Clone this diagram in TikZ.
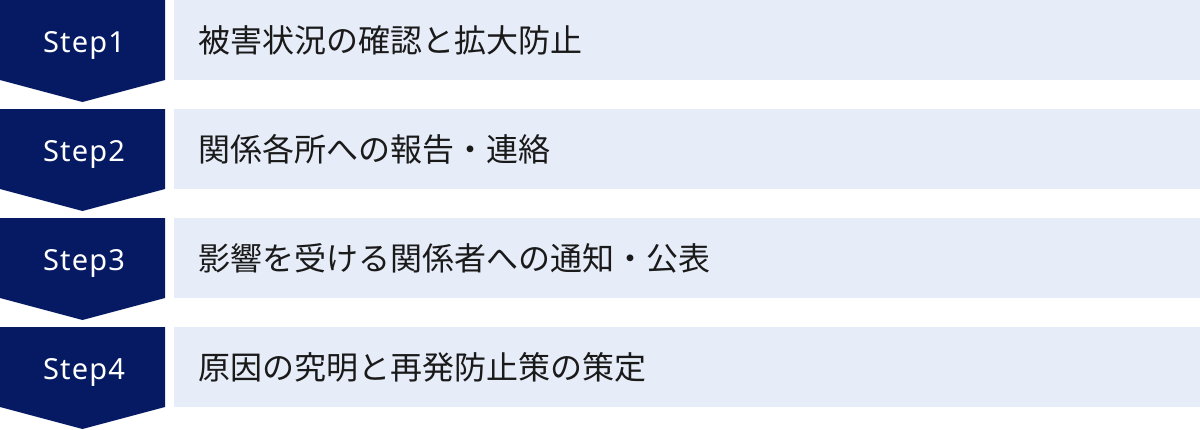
\documentclass[tikz,border=0pt]{standalone}
\usepackage{fontspec}
\setmainfont{Noto Sans CJK JP}
\newfontfamily\latinlabel[LetterSpace=4]{Noto Sans}
\definecolor{navy}{HTML}{061A63}
\definecolor{pale}{HTML}{E6ECF8}
\definecolor{ink}{HTML}{1A1A1A}
\tikzset{
  steplabel/.style={text=white,font=\latinlabel\fontsize{29}{32}\selectfont,inner sep=0pt,anchor=base},
  desc/.style={text=ink,font=\fontsize{32}{36}\selectfont,inner sep=0pt,anchor=west},
  panel/.style={fill=pale,draw=none},
  chevron/.style={fill=navy,draw=none}
}
\begin{document}
\begin{tikzpicture}[x=1pt,y=-1pt]
\useasboundingbox (0,0) rectangle (1200,429);
\foreach \i/\s/\t in {0/1/被害状況の確認と拡大防止,1/2/関係各所への報告・連絡,2/3/影響を受ける関係者への通知・公表,3/4/原因の究明と再発防止策の策定}{
  \pgfmathsetmacro{\top}{109*\i}
  \fill[chevron] (0,\top) -- (165,\top) -- (165,\top+80) -- (82.5,\top+102) -- (0,\top+80) -- cycle;
  \fill[panel] (174,\top) rectangle (1200,\top+80);
  \node[steplabel] (step\s) at (84,\top+52) {Step\s};
  \node[desc] (desc\s) at (198.5,\top+40) {\t};
}
\end{tikzpicture}
\end{document}
